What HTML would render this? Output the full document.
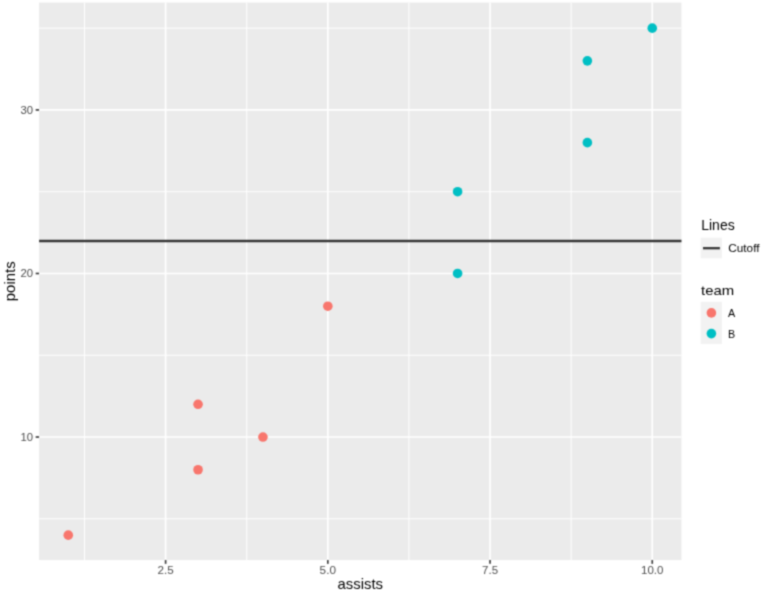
<!DOCTYPE html><html><head><meta charset="utf-8"><style>html,body{margin:0;padding:0;background:#fff;width:768px;height:602px;overflow:hidden}svg{display:block;}text{font-family:"Liberation Sans",sans-serif}</style></head><body>
<svg width="768" height="602" viewBox="0 0 768 602">
<defs><filter id="f" x="0" y="0" width="768" height="602" filterUnits="userSpaceOnUse" color-interpolation-filters="sRGB"><feConvolveMatrix order="3" kernelMatrix="0.04000 0.12000 0.04000 0.12000 0.36000 0.12000 0.04000 0.12000 0.04000" divisor="1" edgeMode="duplicate" preserveAlpha="true"/></filter></defs><g filter="url(#f)">
<rect x="0" y="0" width="768" height="602" fill="#fff"/>
<rect x="39.08" y="2.55" width="642.37" height="557.50" fill="#EBEBEB"/>
<line x1="84.50" y1="2.55" x2="84.50" y2="560.05" stroke="#fff" stroke-width="1.0"/>
<line x1="246.72" y1="2.55" x2="246.72" y2="560.05" stroke="#fff" stroke-width="1.0"/>
<line x1="408.93" y1="2.55" x2="408.93" y2="560.05" stroke="#fff" stroke-width="1.0"/>
<line x1="571.15" y1="2.55" x2="571.15" y2="560.05" stroke="#fff" stroke-width="1.0"/>
<line x1="39.08" y1="518.80" x2="681.45" y2="518.80" stroke="#fff" stroke-width="1.0"/>
<line x1="39.08" y1="355.25" x2="681.45" y2="355.25" stroke="#fff" stroke-width="1.0"/>
<line x1="39.08" y1="191.70" x2="681.45" y2="191.70" stroke="#fff" stroke-width="1.0"/>
<line x1="39.08" y1="28.15" x2="681.45" y2="28.15" stroke="#fff" stroke-width="1.0"/>
<line x1="165.61" y1="2.55" x2="165.61" y2="560.05" stroke="#fff" stroke-width="1.7"/>
<line x1="327.82" y1="2.55" x2="327.82" y2="560.05" stroke="#fff" stroke-width="1.7"/>
<line x1="490.04" y1="2.55" x2="490.04" y2="560.05" stroke="#fff" stroke-width="1.7"/>
<line x1="652.25" y1="2.55" x2="652.25" y2="560.05" stroke="#fff" stroke-width="1.7"/>
<line x1="39.08" y1="437.02" x2="681.45" y2="437.02" stroke="#fff" stroke-width="1.7"/>
<line x1="39.08" y1="273.48" x2="681.45" y2="273.48" stroke="#fff" stroke-width="1.7"/>
<line x1="39.08" y1="109.93" x2="681.45" y2="109.93" stroke="#fff" stroke-width="1.7"/>
<line x1="39.08" y1="241.0" x2="681.45" y2="241.0" stroke="#363636" stroke-width="2.3"/>
<circle cx="68.28" cy="535.15" r="4.8" fill="#F8766D"/>
<circle cx="198.05" cy="469.74" r="4.8" fill="#F8766D"/>
<circle cx="198.05" cy="404.31" r="4.8" fill="#F8766D"/>
<circle cx="262.94" cy="437.02" r="4.8" fill="#F8766D"/>
<circle cx="327.82" cy="306.19" r="4.8" fill="#F8766D"/>
<circle cx="457.60" cy="273.48" r="4.8" fill="#00BFC4"/>
<circle cx="457.60" cy="191.70" r="4.8" fill="#00BFC4"/>
<circle cx="587.37" cy="142.63" r="4.8" fill="#00BFC4"/>
<circle cx="587.37" cy="60.86" r="4.8" fill="#00BFC4"/>
<circle cx="652.25" cy="28.15" r="4.8" fill="#00BFC4"/>
<line x1="165.61" y1="560.05" x2="165.61" y2="563.85" stroke="#3a3a3a" stroke-width="1.65"/>
<line x1="327.82" y1="560.05" x2="327.82" y2="563.85" stroke="#3a3a3a" stroke-width="1.65"/>
<line x1="490.04" y1="560.05" x2="490.04" y2="563.85" stroke="#3a3a3a" stroke-width="1.65"/>
<line x1="652.25" y1="560.05" x2="652.25" y2="563.85" stroke="#3a3a3a" stroke-width="1.65"/>
<line x1="35.68" y1="437.02" x2="39.08" y2="437.02" stroke="#3a3a3a" stroke-width="1.65"/>
<line x1="35.68" y1="273.48" x2="39.08" y2="273.48" stroke="#3a3a3a" stroke-width="1.65"/>
<line x1="35.68" y1="109.93" x2="39.08" y2="109.93" stroke="#3a3a3a" stroke-width="1.65"/>
<text x="165.61" y="574.2" font-size="10.8" fill="#4D4D4D" text-anchor="middle" textLength="16.2" lengthAdjust="spacingAndGlyphs">2.5</text>
<text x="327.82" y="574.2" font-size="10.8" fill="#4D4D4D" text-anchor="middle" textLength="16.4" lengthAdjust="spacingAndGlyphs">5.0</text>
<text x="490.04" y="574.2" font-size="10.8" fill="#4D4D4D" text-anchor="middle" textLength="16.0" lengthAdjust="spacingAndGlyphs">7.5</text>
<text x="652.25" y="574.2" font-size="10.8" fill="#4D4D4D" text-anchor="middle" textLength="22.4" lengthAdjust="spacingAndGlyphs">10.0</text>
<text x="33.0" y="440.88" font-size="10.6" fill="#4D4D4D" text-anchor="end" textLength="12.6" lengthAdjust="spacingAndGlyphs">10</text>
<text x="33.0" y="277.33" font-size="10.6" fill="#4D4D4D" text-anchor="end" textLength="12.6" lengthAdjust="spacingAndGlyphs">20</text>
<text x="33.0" y="113.78" font-size="10.6" fill="#4D4D4D" text-anchor="end" textLength="12.6" lengthAdjust="spacingAndGlyphs">30</text>
<text x="360.27" y="589" font-size="14.3" fill="#000" text-anchor="middle" textLength="45.5" lengthAdjust="spacingAndGlyphs">assists</text>
<text transform="translate(15.2,281.30) rotate(-90)" x="0" y="0" font-size="14.3" fill="#000" text-anchor="middle" textLength="39.8" lengthAdjust="spacingAndGlyphs">points</text>
<text x="701.2" y="229.75" font-size="14" fill="#000" textLength="33.5" lengthAdjust="spacingAndGlyphs">Lines</text>
<rect x="700.7" y="237.7" width="21.2" height="20.6" fill="#F2F2F2"/>
<line x1="703" y1="248.2" x2="719.9" y2="248.2" stroke="#363636" stroke-width="2.3"/>
<text x="728.25" y="252" font-size="10.4" fill="#000" textLength="31.3" lengthAdjust="spacingAndGlyphs">Cutoff</text>
<text x="701" y="295" font-size="13.6" fill="#000" textLength="33.1" lengthAdjust="spacingAndGlyphs">team</text>
<rect x="700.7" y="301.8" width="21.2" height="42.2" fill="#F2F2F2"/>
<circle cx="711.4" cy="312.9" r="4.8" fill="#F8766D"/>
<circle cx="711.4" cy="333.6" r="4.8" fill="#00BFC4"/>
<text x="728.1" y="316.8" font-size="10.6" fill="#000" textLength="7.2" lengthAdjust="spacingAndGlyphs">A</text>
<text x="728.1" y="337.6" font-size="10.6" fill="#000" textLength="7.2" lengthAdjust="spacingAndGlyphs">B</text>
</g></svg></body></html>
